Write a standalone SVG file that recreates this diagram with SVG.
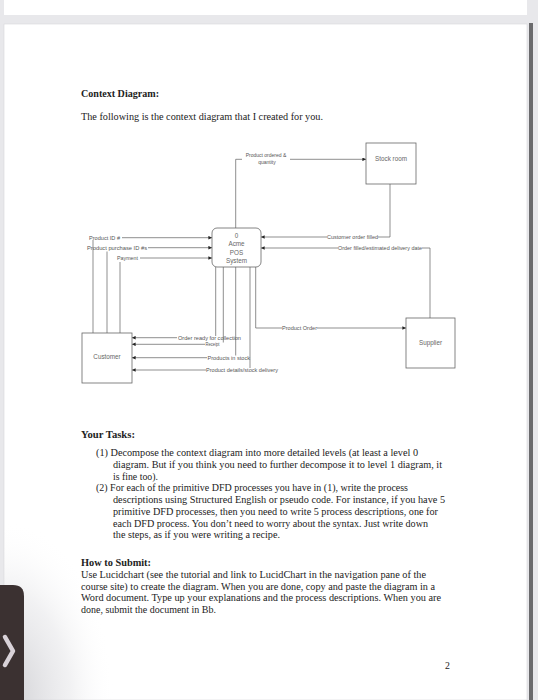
<svg xmlns="http://www.w3.org/2000/svg" width="538" height="700" viewBox="0 0 538 700">
<defs>
<style>
.ln{fill:none;stroke:#5e5e5e;stroke-width:0.7}
.box{fill:#fff;stroke:#666;stroke-width:0.8}
.lbl{font-family:"Liberation Sans",Arial,sans-serif;font-size:5px;fill:#555}
.blbl{font-family:"Liberation Sans",Arial,sans-serif;font-size:6.3px;fill:#666;text-anchor:middle}
.doc{font-family:"Liberation Serif","Times New Roman",serif;font-size:9.8px;fill:#222}
.bold{font-weight:bold}
</style>
<marker id="ar" viewBox="0 0 10 10" refX="10" refY="5" markerWidth="5" markerHeight="3.6" markerUnits="userSpaceOnUse" orient="auto">
<path d="M0,0 L10,5 L0,10 z" fill="#222"/>
</marker>
<radialGradient id="shade" cx="0" cy="1" r="1" gradientUnits="objectBoundingBox">
<stop offset="0" stop-color="#c8c8cc" stop-opacity="0.9"/>
<stop offset="0.6" stop-color="#dcdce0" stop-opacity="0.4"/>
<stop offset="1" stop-color="#ffffff" stop-opacity="0"/>
</radialGradient>
</defs>
<rect x="0" y="0" width="538" height="700" fill="#e8e8eb"/>
<rect x="4" y="0" width="523" height="15" fill="#fff"/>
<rect x="4" y="24" width="523" height="676" fill="#fff" stroke="#d6d6da" stroke-width="0.6"/>
<rect x="4" y="520" width="110" height="180" fill="url(#shade)"/>
<rect x="529" y="23" width="4" height="677" fill="#6b6b6d"/>
<path d="M0,585 H13 Q24,585 24,596 V700 H0 z" fill="#3b3131"/>
<path d="M5,637 L13,651 L5,665" fill="none" stroke="#d9d2d8" stroke-width="4.5" stroke-linecap="round" stroke-linejoin="round"/>

<g id="doc-text">
<text class="doc bold" x="81" y="97" textLength="78" lengthAdjust="spacingAndGlyphs">Context Diagram:</text>
<text class="doc" x="81" y="120" textLength="242" lengthAdjust="spacingAndGlyphs">The following is the context diagram that I created for you.</text>
<text class="doc bold" x="81" y="438" textLength="54" lengthAdjust="spacingAndGlyphs">Your Tasks:</text>
<text class="doc" x="96" y="456" textLength="322" lengthAdjust="spacingAndGlyphs">(1) Decompose the context diagram into more detailed levels (at least a level 0</text>
<text class="doc" x="113" y="467.8" textLength="329" lengthAdjust="spacingAndGlyphs">diagram. But if you think you need to further decompose it to level 1 diagram, it</text>
<text class="doc" x="113" y="479.5">is fine too).</text>
<text class="doc" x="96" y="491.3" textLength="312" lengthAdjust="spacingAndGlyphs">(2) For each of the primitive DFD processes you have in (1), write the process</text>
<text class="doc" x="113" y="503" textLength="332" lengthAdjust="spacingAndGlyphs">descriptions using Structured English or pseudo code. For instance, if you have 5</text>
<text class="doc" x="113" y="514.8" textLength="325" lengthAdjust="spacingAndGlyphs">primitive DFD processes, then you need to write 5 process descriptions, one for</text>
<text class="doc" x="113" y="526.5" textLength="315" lengthAdjust="spacingAndGlyphs">each DFD process.  You don’t need to worry about the syntax.  Just write down</text>
<text class="doc" x="113" y="538.3" textLength="167" lengthAdjust="spacingAndGlyphs">the steps, as if you were writing a recipe.</text>
<text class="doc bold" x="81" y="566" textLength="70" lengthAdjust="spacingAndGlyphs">How to Submit:</text>
<text class="doc" x="81" y="577.8" textLength="345" lengthAdjust="spacingAndGlyphs">Use Lucidchart (see the tutorial and link to LucidChart in the navigation pane of the</text>
<text class="doc" x="81" y="589.5" textLength="354" lengthAdjust="spacingAndGlyphs">course site) to create the diagram.  When you are done, copy and paste the diagram in a</text>
<text class="doc" x="81" y="601.3" textLength="360" lengthAdjust="spacingAndGlyphs">Word document. Type up your explanations and the process descriptions. When you are</text>
<text class="doc" x="81" y="613" textLength="135" lengthAdjust="spacingAndGlyphs">done, submit the document in Bb.</text>
<text class="doc" x="445" y="669">2</text>
</g>

<g id="connectors">
<path class="ln" d="M235.7,228 V159.3 H242"/>
<path class="ln" d="M290,159.3 H366" marker-end="url(#ar)"/>
<path class="ln" d="M390,184 V237 H378"/>
<path class="ln" d="M327,237 H261" marker-end="url(#ar)"/>
<path class="ln" d="M430,318 V248 H422"/>
<path class="ln" d="M338,248 H261" marker-end="url(#ar)"/>
<path class="ln" d="M255.7,267 V328 H282"/>
<path class="ln" d="M317,328 H406" marker-end="url(#ar)"/>
<path class="ln" d="M93,333 V240"/>
<path class="ln" d="M122,237.7 H212" marker-end="url(#ar)"/>
<path class="ln" d="M107,333 V251.5"/>
<path class="ln" d="M148,247.7 H212" marker-end="url(#ar)"/>
<path class="ln" d="M120,333 V262"/>
<path class="ln" d="M140,258 H212" marker-end="url(#ar)"/>
<path class="ln" d="M215.7,267 V336"/>
<path class="ln" d="M177,337.7 H132" marker-end="url(#ar)"/>
<path class="ln" d="M223.3,267 V342.5"/>
<path class="ln" d="M205,344.3 H132" marker-end="url(#ar)"/>
<path class="ln" d="M235.7,267 V355.5"/>
<path class="ln" d="M207,357.7 H132" marker-end="url(#ar)"/>
<path class="ln" d="M250,267 V368"/>
<path class="ln" d="M206,370 H132" marker-end="url(#ar)"/>
<text class="lbl" x="266" y="156.5" text-anchor="middle">Product ordered &amp;</text>
<text class="lbl" x="267" y="164.3" text-anchor="middle">quantity</text>
<text class="lbl" x="327" y="238.8" textLength="51" lengthAdjust="spacingAndGlyphs">Customer order filled</text>
<text class="lbl" x="338" y="249.8" textLength="84" lengthAdjust="spacingAndGlyphs">Order filled/estimated delivery date</text>
<text class="lbl" x="282" y="329.8" textLength="35" lengthAdjust="spacingAndGlyphs">Product Order</text>
<text class="lbl" x="89" y="239.5" textLength="31" lengthAdjust="spacingAndGlyphs">Product ID #</text>
<text class="lbl" x="87" y="249.5" textLength="60" lengthAdjust="spacingAndGlyphs">Product purchase ID #s</text>
<text class="lbl" x="117" y="259.8" textLength="21" lengthAdjust="spacingAndGlyphs">Payment</text>
<text class="lbl" x="178" y="339.5" textLength="63" lengthAdjust="spacingAndGlyphs">Order ready for collection</text>
<text class="lbl" x="205.5" y="346.1" textLength="14" lengthAdjust="spacingAndGlyphs">Receipt</text>
<text class="lbl" x="207.5" y="359.5" textLength="42.5" lengthAdjust="spacingAndGlyphs">Products in stock</text>
<text class="lbl" x="206" y="371.8" textLength="72" lengthAdjust="spacingAndGlyphs">Product details/stock delivery</text>
</g>

<g id="stock-room">
<rect class="box" x="366" y="143" width="50" height="41"/>
<text class="blbl" x="391" y="161.2">Stock room</text>
</g>
<g id="acme-pos">
<rect class="box" x="212" y="228" width="49" height="39" rx="5" ry="5"/>
<text class="blbl" x="236.5" y="237.5">0</text>
<text class="blbl" x="236.5" y="245.7">Acme</text>
<text class="blbl" x="236.5" y="254.5">POS</text>
<text class="blbl" x="236.5" y="263">System</text>
</g>
<g id="supplier">
<rect class="box" x="406" y="318" width="49" height="50"/>
<text class="blbl" x="430.5" y="345.2">Supplier</text>
</g>
<g id="customer">
<rect class="box" x="82" y="333" width="50" height="50"/>
<text class="blbl" x="107" y="359.2">Customer</text>
</g>
</svg>
